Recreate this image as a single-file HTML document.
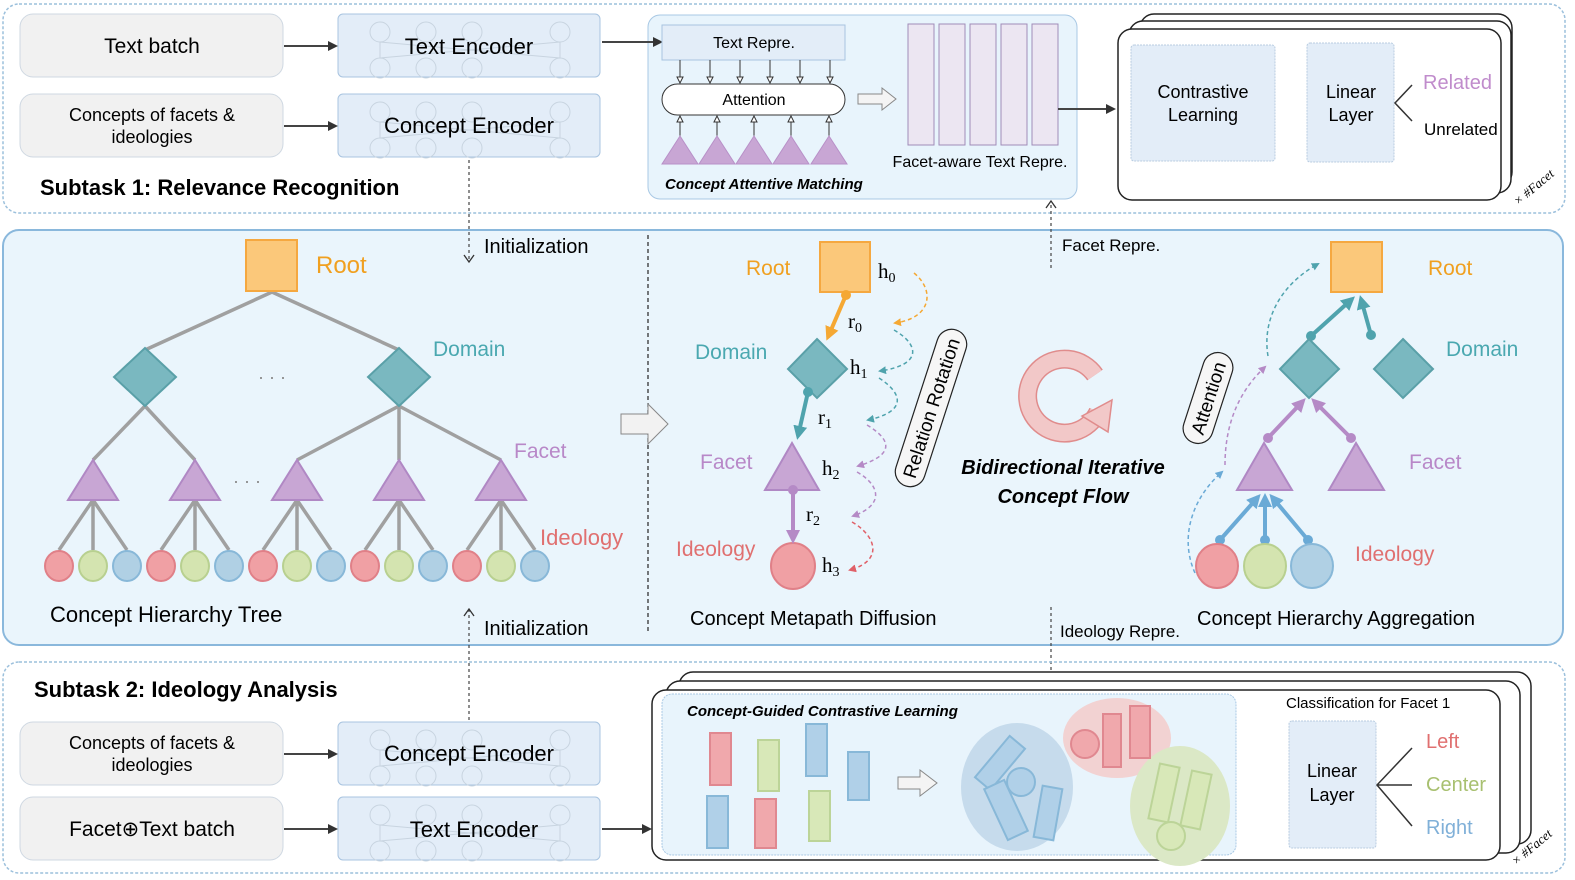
<!DOCTYPE html>
<html><head><meta charset="utf-8"><style>
html,body{margin:0;padding:0;background:#fff;}
svg{display:block;font-family:"Liberation Sans",sans-serif;}
</style></head><body>
<svg width="1575" height="880" viewBox="0 0 1575 880" xmlns="http://www.w3.org/2000/svg">
<defs>
<marker id="ab" markerWidth="10" markerHeight="10" refX="8" refY="5" orient="auto" markerUnits="userSpaceOnUse"><path d="M0,0 L10,5 L0,10 z" fill="#333"/></marker>
<marker id="ao" markerWidth="14" markerHeight="14" refX="10" refY="7" orient="auto" markerUnits="userSpaceOnUse"><path d="M0,0 L14,7 L0,14 z" fill="#f5a833"/></marker>
<marker id="at" markerWidth="14" markerHeight="14" refX="10" refY="7" orient="auto" markerUnits="userSpaceOnUse"><path d="M0,0 L14,7 L0,14 z" fill="#4fa3ad"/></marker>
<marker id="ap" markerWidth="14" markerHeight="14" refX="10" refY="7" orient="auto" markerUnits="userSpaceOnUse"><path d="M0,0 L14,7 L0,14 z" fill="#b58ac6"/></marker>
<marker id="abl" markerWidth="14" markerHeight="14" refX="10" refY="7" orient="auto" markerUnits="userSpaceOnUse"><path d="M0,0 L14,7 L0,14 z" fill="#6aaad6"/></marker>
<marker id="so" markerWidth="8" markerHeight="8" refX="6" refY="4" orient="auto" markerUnits="userSpaceOnUse"><path d="M0,0 L8,4 L0,8 z" fill="#f5a833"/></marker>
<marker id="st" markerWidth="8" markerHeight="8" refX="6" refY="4" orient="auto" markerUnits="userSpaceOnUse"><path d="M0,0 L8,4 L0,8 z" fill="#4fa3ad"/></marker>
<marker id="sp" markerWidth="8" markerHeight="8" refX="6" refY="4" orient="auto" markerUnits="userSpaceOnUse"><path d="M0,0 L8,4 L0,8 z" fill="#b58ac6"/></marker>
<marker id="sr" markerWidth="8" markerHeight="8" refX="6" refY="4" orient="auto" markerUnits="userSpaceOnUse"><path d="M0,0 L8,4 L0,8 z" fill="#e06068"/></marker>
<marker id="sb" markerWidth="8" markerHeight="8" refX="6" refY="4" orient="auto" markerUnits="userSpaceOnUse"><path d="M0,0 L8,4 L0,8 z" fill="#6aaad6"/></marker>
<marker id="open" markerWidth="10" markerHeight="12" refX="8" refY="6" orient="auto" markerUnits="userSpaceOnUse"><path d="M1,1 L8,6 L1,11" fill="none" stroke="#333" stroke-width="1.3"/></marker>
<marker id="ht" markerWidth="8" markerHeight="8" refX="7" refY="4" orient="auto" markerUnits="userSpaceOnUse"><path d="M1,1 L7,4 L1,7 z" fill="#fff" stroke="#333"/></marker>
<g id="enc" fill="none" stroke="#c8d4e0" stroke-width="1">
<circle cx="42" cy="14" r="10"/><circle cx="88" cy="14" r="10"/><circle cx="134" cy="14" r="10"/><circle cx="222" cy="14" r="10"/>
<circle cx="42" cy="50" r="10"/><circle cx="88" cy="50" r="10"/><circle cx="134" cy="50" r="10"/><circle cx="222" cy="50" r="10"/>
<path d="M42,24 L222,40 M42,40 L222,24 M42,24 L42,40 M222,24 L222,40"/>
</g>
</defs>

<!-- Top dashed section -->
<rect x="3" y="4" width="1562" height="209" rx="16" fill="none" stroke="#9cc0dc" stroke-width="1.5" stroke-dasharray="3,2"/>
<rect x="20" y="14" width="263" height="63" rx="13" fill="#f1f1f1" stroke="#cfd8e2"/>
<text x="152" y="53" font-size="21" text-anchor="middle">Text batch</text>
<rect x="20" y="94" width="263" height="63" rx="13" fill="#f1f1f1" stroke="#cfd8e2"/>
<text x="152" y="121" font-size="18" text-anchor="middle">Concepts of facets &amp;</text>
<text x="152" y="143" font-size="18" text-anchor="middle">ideologies</text>
<rect x="338" y="14" width="262" height="63" rx="5" fill="#e3edf8" stroke="#a8c4e0"/>
<use href="#enc" x="338" y="18"/>
<text x="469" y="54" font-size="22" text-anchor="middle">Text Encoder</text>
<rect x="338" y="94" width="262" height="63" rx="5" fill="#e3edf8" stroke="#a8c4e0"/>
<use href="#enc" x="338" y="98"/>
<text x="469" y="133" font-size="22" text-anchor="middle">Concept Encoder</text>
<line x1="284" y1="46" x2="336" y2="46" stroke="#444" stroke-width="2" marker-end="url(#ab)"/>
<line x1="284" y1="126" x2="336" y2="126" stroke="#444" stroke-width="2" marker-end="url(#ab)"/>
<text x="40" y="195" font-size="22" font-weight="bold">Subtask 1: Relevance Recognition</text>

<!-- Concept attentive matching -->
<rect x="648" y="15" width="429" height="184" rx="12" fill="#e8f4fc" stroke="#a8c8e4"/>
<line x1="602" y1="42" x2="661" y2="42" stroke="#444" stroke-width="2" marker-end="url(#ab)"/>
<rect x="662" y="25" width="183" height="35" fill="#e3edf8" stroke="#a8c4e0"/>
<text x="754" y="48" font-size="16" text-anchor="middle">Text Repre.</text>
<g stroke="#333" stroke-width="1">
<line x1="680" y1="60" x2="680" y2="83" marker-end="url(#ht)"/><line x1="710" y1="60" x2="710" y2="83" marker-end="url(#ht)"/><line x1="740" y1="60" x2="740" y2="83" marker-end="url(#ht)"/><line x1="770" y1="60" x2="770" y2="83" marker-end="url(#ht)"/><line x1="800" y1="60" x2="800" y2="83" marker-end="url(#ht)"/><line x1="830" y1="60" x2="830" y2="83" marker-end="url(#ht)"/>
<line x1="680" y1="136" x2="680" y2="116" marker-end="url(#ht)"/><line x1="717" y1="136" x2="717" y2="116" marker-end="url(#ht)"/><line x1="754" y1="136" x2="754" y2="116" marker-end="url(#ht)"/><line x1="791" y1="136" x2="791" y2="116" marker-end="url(#ht)"/><line x1="829" y1="136" x2="829" y2="116" marker-end="url(#ht)"/>
</g>
<rect x="662" y="84" width="183" height="31" rx="15.5" fill="#fff" stroke="#333"/>
<text x="754" y="105" font-size="16" text-anchor="middle">Attention</text>
<g fill="#c8a6d4" stroke="#b890c8">
<path d="M680,136 L698,164 L662,164 z"/><path d="M717,136 L735,164 L699,164 z"/><path d="M754,136 L772,164 L736,164 z"/><path d="M791,136 L809,164 L773,164 z"/><path d="M829,136 L847,164 L811,164 z"/>
</g>
<path d="M858,94 L882,94 L882,88 L896,99 L882,110 L882,104 L858,104 z" fill="#f4f4f4" stroke="#888"/>
<g fill="#ece6f2" stroke="#a08cb8">
<rect x="908" y="24" width="26" height="121"/><rect x="939" y="24" width="26" height="121"/><rect x="970" y="24" width="26" height="121"/><rect x="1001" y="24" width="26" height="121"/><rect x="1032" y="24" width="26" height="121"/>
</g>
<text x="980" y="167" font-size="16" text-anchor="middle">Facet-aware Text Repre.</text>
<text x="665" y="189" font-size="15" font-weight="bold" font-style="italic">Concept Attentive Matching</text>
<line x1="1058" y1="109" x2="1114" y2="109" stroke="#444" stroke-width="2" marker-end="url(#ab)"/>

<!-- Classification cards top -->
<rect x="1140" y="14" width="372" height="172" rx="14" fill="#fff" stroke="#222" stroke-width="1.5"/>
<rect x="1129" y="21" width="382" height="172" rx="14" fill="#fff" stroke="#222" stroke-width="1.5"/>
<rect x="1118" y="29" width="383" height="171" rx="14" fill="#fff" stroke="#222" stroke-width="1.5"/>
<rect x="1131" y="45" width="144" height="116" rx="3" fill="#e3edf8" stroke="#b8cce0" stroke-dasharray="2,1"/>
<text x="1203" y="98" font-size="18" text-anchor="middle">Contrastive</text>
<text x="1203" y="121" font-size="18" text-anchor="middle">Learning</text>
<rect x="1307" y="43" width="87" height="119" rx="3" fill="#e3edf8" stroke="#b8cce0" stroke-dasharray="2,1"/>
<text x="1351" y="98" font-size="18" text-anchor="middle">Linear</text>
<text x="1351" y="121" font-size="18" text-anchor="middle">Layer</text>
<path d="M1412,85 L1395,103 L1412,121" fill="none" stroke="#333" stroke-width="1.5"/>
<text x="1423" y="89" font-size="20" fill="#c08ccc">Related</text>
<text x="1424" y="135" font-size="17">Unrelated</text>
<text x="1518" y="206" font-size="13" font-style="italic" font-family="Liberation Serif,serif" transform="rotate(-40 1518 206)">× #Facet</text>

<!-- Middle panel -->
<rect x="3" y="230" width="1560" height="415" rx="16" fill="#eaf5fc" stroke="#8ab8dc" stroke-width="2"/>
<line x1="648" y1="235" x2="648" y2="633" stroke="#333" stroke-width="1.3" stroke-dasharray="4,3"/>
<line x1="469" y1="160" x2="469" y2="262" stroke="#444" stroke-width="1.2" stroke-dasharray="3,3" marker-end="url(#open)"/>
<text x="484" y="253" font-size="20">Initialization</text>
<line x1="469" y1="720" x2="469" y2="609" stroke="#444" stroke-width="1.2" stroke-dasharray="3,3" marker-end="url(#open)"/>
<text x="484" y="635" font-size="20">Initialization</text>

<!-- tree -->
<g stroke="#a0a0a0" stroke-width="3.5" fill="none">
<path d="M272,292 L145,350 M272,292 L399,350"/>
<path d="M145,406 L93,460 M145,406 L195,460 M399,406 L297,460 M399,406 L399,460 M399,406 L501,460"/>
<path d="M59,550 L93,500 L93,550 M93,500 L127,550"/>
<path d="M161,550 L195,500 L195,550 M195,500 L229,550"/>
<path d="M263,550 L297,500 L297,550 M297,500 L331,550"/>
<path d="M365,550 L399,500 L399,550 M399,500 L433,550"/>
<path d="M467,550 L501,500 L501,550 M501,500 L535,550"/>
</g>
<rect x="246" y="240" width="51" height="51" fill="#fbc87a" stroke="#f5a840" stroke-width="2"/>
<text x="316" y="273" font-size="24" fill="#f0a020">Root</text>
<g fill="#7ab8c0" stroke="#5aa0a8" stroke-width="2">
<path d="M145,348 L176,377 L145,406 L114,377 z"/><path d="M399,348 L430,377 L399,406 L368,377 z"/>
</g>
<text x="433" y="356" font-size="21" fill="#4aa8b0">Domain</text>
<text x="272" y="383" font-size="18" fill="#888" text-anchor="middle">· · ·</text>
<text x="247" y="487" font-size="18" fill="#888" text-anchor="middle">· · ·</text>
<g fill="#c8a6d4" stroke="#b088c4" stroke-width="2">
<path d="M93,460 L118,500 L68,500 z"/><path d="M195,460 L220,500 L170,500 z"/><path d="M297,460 L322,500 L272,500 z"/><path d="M399,460 L424,500 L374,500 z"/><path d="M501,460 L526,500 L476,500 z"/>
</g>
<text x="514" y="458" font-size="21" fill="#b888c8">Facet</text>
<g stroke-width="2">
<g fill="#f0a0a4" stroke="#e08088"><ellipse cx="59" cy="566" rx="14" ry="15"/><ellipse cx="161" cy="566" rx="14" ry="15"/><ellipse cx="263" cy="566" rx="14" ry="15"/><ellipse cx="365" cy="566" rx="14" ry="15"/><ellipse cx="467" cy="566" rx="14" ry="15"/></g>
<g fill="#d4e4b0" stroke="#b8d090"><ellipse cx="93" cy="566" rx="14" ry="15"/><ellipse cx="195" cy="566" rx="14" ry="15"/><ellipse cx="297" cy="566" rx="14" ry="15"/><ellipse cx="399" cy="566" rx="14" ry="15"/><ellipse cx="501" cy="566" rx="14" ry="15"/></g>
<g fill="#b0d0e4" stroke="#88b8d8"><ellipse cx="127" cy="566" rx="14" ry="15"/><ellipse cx="229" cy="566" rx="14" ry="15"/><ellipse cx="331" cy="566" rx="14" ry="15"/><ellipse cx="433" cy="566" rx="14" ry="15"/><ellipse cx="535" cy="566" rx="14" ry="15"/></g>
</g>
<text x="540" y="545" font-size="22" fill="#e07070">Ideology</text>
<text x="50" y="622" font-size="22">Concept Hierarchy Tree</text>
<path d="M621,414 L648,414 L648,404 L668,424 L648,444 L648,434 L621,434 z" fill="#f2f2f2" stroke="#888"/>

<!-- Metapath diffusion -->
<rect x="820" y="242" width="50" height="50" fill="#fbc87a" stroke="#f5a840" stroke-width="2"/>
<text x="746" y="275" font-size="21" fill="#f0a020">Root</text>
<path d="M817,339 L847,369 L817,398 L788,369 z" fill="#7ab8c0" stroke="#5aa0a8" stroke-width="2"/>
<text x="695" y="359" font-size="21" fill="#4aa8b0">Domain</text>
<path d="M792,443 L819,490 L765,490 z" fill="#c8a6d4" stroke="#b088c4" stroke-width="2"/>
<text x="700" y="469" font-size="21" fill="#b888c8">Facet</text>
<ellipse cx="793" cy="566" rx="22" ry="23" fill="#f0a0a4" stroke="#e08088" stroke-width="2"/>
<text x="676" y="556" font-size="21" fill="#e07070">Ideology</text>
<line x1="846" y1="295" x2="828" y2="337" stroke="#f5a833" stroke-width="4" marker-end="url(#ao)"/><circle cx="846" cy="295" r="5" fill="#f5a833"/>
<line x1="808" y1="392" x2="798" y2="436" stroke="#4fa3ad" stroke-width="4" marker-end="url(#at)"/><circle cx="808" cy="392" r="5" fill="#4fa3ad"/>
<line x1="793" y1="490" x2="793" y2="540" stroke="#b58ac6" stroke-width="4" marker-end="url(#ap)"/><circle cx="793" cy="490" r="5" fill="#b58ac6"/>
<g font-family="Liberation Serif,serif" font-size="21">
<text x="878" y="278">h<tspan font-size="14" dy="4">0</tspan></text>
<text x="848" y="328">r<tspan font-size="14" dy="4">0</tspan></text>
<text x="850" y="374">h<tspan font-size="14" dy="4">1</tspan></text>
<text x="818" y="424">r<tspan font-size="14" dy="4">1</tspan></text>
<text x="822" y="475">h<tspan font-size="14" dy="4">2</tspan></text>
<text x="806" y="521">r<tspan font-size="14" dy="4">2</tspan></text>
<text x="822" y="572">h<tspan font-size="14" dy="4">3</tspan></text>
</g>
<g fill="none" stroke-width="1.5" stroke-dasharray="4,3">
<path d="M914,273 C935,290 932,318 895,323" stroke="#f5a833" marker-end="url(#so)"/>
<path d="M894,330 C920,345 922,365 880,371" stroke="#4fa3ad" marker-end="url(#st)"/>
<path d="M879,378 C905,395 905,412 868,420" stroke="#4fa3ad" marker-end="url(#st)"/>
<path d="M867,425 C892,440 895,455 858,466" stroke="#b58ac6" marker-end="url(#sp)"/>
<path d="M857,472 C880,485 885,505 853,516" stroke="#b58ac6" marker-end="url(#sp)"/>
<path d="M852,522 C875,535 885,560 850,570" stroke="#e06068" marker-end="url(#sr)"/>
</g>
<g transform="translate(931,408) rotate(-72)">
<rect x="-82" y="-15" width="164" height="30" rx="15" fill="#f6f6f6" stroke="#222" stroke-width="1.2"/>
<text x="0" y="7" font-size="19" text-anchor="middle">Relation Rotation</text>
</g>
<!-- circular arrow -->
<path d="M1098,412 A37,37 0 1 1 1095,375" fill="none" stroke="#e08c8c" stroke-width="19"/>
<path d="M1098,412 A37,37 0 1 1 1095,375" fill="none" stroke="#f2c8c8" stroke-width="16"/>
<path d="M1082,416 L1112,400 L1108,432 z" fill="#f2c8c8" stroke="#e08c8c" stroke-width="1.5"/>
<text x="1063" y="474" font-size="20" font-weight="bold" font-style="italic" text-anchor="middle">Bidirectional Iterative</text>
<text x="1063" y="503" font-size="20" font-weight="bold" font-style="italic" text-anchor="middle">Concept Flow</text>
<line x1="1051" y1="268" x2="1051" y2="201" stroke="#444" stroke-width="1.2" stroke-dasharray="3,3" marker-end="url(#open)"/>
<text x="1062" y="251" font-size="17">Facet Repre.</text>
<line x1="1051" y1="607" x2="1051" y2="693" stroke="#444" stroke-width="1.2" stroke-dasharray="3,3" marker-end="url(#open)"/>
<text x="1060" y="637" font-size="17">Ideology Repre.</text>
<text x="690" y="625" font-size="20">Concept Metapath Diffusion</text>

<!-- Aggregation -->
<line x1="1311" y1="336" x2="1352" y2="299" stroke="#4fa3ad" stroke-width="4" marker-end="url(#at)"/><circle cx="1311" cy="336" r="5" fill="#4fa3ad"/>
<line x1="1371" y1="335" x2="1361" y2="299" stroke="#4fa3ad" stroke-width="4" marker-end="url(#at)"/><circle cx="1371" cy="335" r="5" fill="#4fa3ad"/>
<line x1="1268" y1="438" x2="1303" y2="401" stroke="#b58ac6" stroke-width="4" marker-end="url(#ap)"/><circle cx="1268" cy="438" r="5" fill="#b58ac6"/>
<line x1="1351" y1="438" x2="1314" y2="401" stroke="#b58ac6" stroke-width="4" marker-end="url(#ap)"/><circle cx="1351" cy="438" r="5" fill="#b58ac6"/>
<line x1="1220" y1="540" x2="1258" y2="497" stroke="#6aaad6" stroke-width="4" marker-end="url(#abl)"/><circle cx="1220" cy="540" r="5" fill="#6aaad6"/>
<line x1="1265" y1="540" x2="1265" y2="497" stroke="#6aaad6" stroke-width="4" marker-end="url(#abl)"/><circle cx="1265" cy="540" r="5" fill="#6aaad6"/>
<line x1="1308" y1="540" x2="1272" y2="497" stroke="#6aaad6" stroke-width="4" marker-end="url(#abl)"/><circle cx="1308" cy="540" r="5" fill="#6aaad6"/>
<rect x="1331" y="242" width="51" height="50" fill="#fbc87a" stroke="#f5a840" stroke-width="2"/>
<text x="1428" y="275" font-size="21" fill="#f0a020">Root</text>
<path d="M1309,339 L1339,369 L1309,398 L1280,369 z" fill="#7ab8c0" stroke="#5aa0a8" stroke-width="2"/>
<path d="M1403,339 L1433,369 L1403,398 L1374,369 z" fill="#7ab8c0" stroke="#5aa0a8" stroke-width="2"/>
<text x="1446" y="356" font-size="21" fill="#4aa8b0">Domain</text>
<path d="M1264,443 L1292,490 L1237,490 z" fill="#c8a6d4" stroke="#b088c4" stroke-width="2"/>
<path d="M1356,443 L1384,490 L1329,490 z" fill="#c8a6d4" stroke="#b088c4" stroke-width="2"/>
<text x="1409" y="469" font-size="21" fill="#b888c8">Facet</text>
<ellipse cx="1217" cy="566" rx="21" ry="22" fill="#f0a0a4" stroke="#e08088" stroke-width="2"/>
<ellipse cx="1265" cy="566" rx="21" ry="22" fill="#d4e4b0" stroke="#b8d090" stroke-width="2"/>
<ellipse cx="1312" cy="566" rx="21" ry="22" fill="#b0d0e4" stroke="#88b8d8" stroke-width="2"/>
<text x="1355" y="561" font-size="21" fill="#e07070">Ideology</text>
<g fill="none" stroke-width="1.5" stroke-dasharray="4,3">
<path d="M1195,573 C1180,540 1190,500 1222,472" stroke="#6aaad6" marker-end="url(#sb)"/>
<path d="M1225,465 C1225,430 1235,395 1265,367" stroke="#b58ac6" marker-end="url(#sp)"/>
<path d="M1268,356 C1262,320 1280,285 1318,264" stroke="#4fa3ad" marker-end="url(#st)"/>
</g>
<g transform="translate(1208,398) rotate(-72)">
<rect x="-47" y="-15" width="94" height="30" rx="15" fill="#f6f6f6" stroke="#222" stroke-width="1.2"/>
<text x="0" y="7" font-size="19" text-anchor="middle">Attention</text>
</g>
<text x="1197" y="625" font-size="20">Concept Hierarchy Aggregation</text>

<!-- Bottom dashed section -->
<rect x="3" y="662" width="1562" height="211" rx="16" fill="none" stroke="#9cc0dc" stroke-width="1.5" stroke-dasharray="3,2"/>
<text x="34" y="697" font-size="22" font-weight="bold">Subtask 2: Ideology Analysis</text>
<rect x="20" y="722" width="263" height="63" rx="13" fill="#f1f1f1" stroke="#cfd8e2"/>
<text x="152" y="749" font-size="18" text-anchor="middle">Concepts of facets &amp;</text>
<text x="152" y="771" font-size="18" text-anchor="middle">ideologies</text>
<rect x="20" y="797" width="263" height="63" rx="13" fill="#f1f1f1" stroke="#cfd8e2"/>
<text x="152" y="836" font-size="21" text-anchor="middle">Facet⊕Text batch</text>
<rect x="338" y="722" width="262" height="63" rx="5" fill="#e3edf8" stroke="#a8c4e0"/>
<use href="#enc" x="338" y="726"/>
<text x="469" y="761" font-size="22" text-anchor="middle">Concept Encoder</text>
<rect x="338" y="797" width="262" height="63" rx="5" fill="#e3edf8" stroke="#a8c4e0"/>
<use href="#enc" x="338" y="801"/>
<text x="474" y="837" font-size="22" text-anchor="middle">Text Encoder</text>
<line x1="284" y1="754" x2="336" y2="754" stroke="#444" stroke-width="2" marker-end="url(#ab)"/>
<line x1="284" y1="829" x2="336" y2="829" stroke="#444" stroke-width="2" marker-end="url(#ab)"/>
<line x1="602" y1="829" x2="650" y2="829" stroke="#444" stroke-width="2" marker-end="url(#ab)"/>

<rect x="679" y="672" width="852" height="172" rx="14" fill="#fff" stroke="#222" stroke-width="1.5"/>
<rect x="666" y="681" width="854" height="172" rx="14" fill="#fff" stroke="#222" stroke-width="1.5"/>
<rect x="652" y="690" width="848" height="170" rx="14" fill="#fff" stroke="#222" stroke-width="1.5"/>
<rect x="662" y="694" width="574" height="161" rx="10" fill="#e8f4fc" stroke="#a8c8e4" stroke-dasharray="2,1"/>
<text x="687" y="716" font-size="15" font-weight="bold" font-style="italic">Concept-Guided Contrastive Learning</text>
<g stroke-width="2">
<rect x="710" y="733" width="21" height="52" fill="#f0a8ac" stroke="#e08890"/>
<rect x="758" y="740" width="21" height="51" fill="#d8e8b8" stroke="#bcd498"/>
<rect x="806" y="724" width="21" height="52" fill="#b0d0e8" stroke="#88b8d8"/>
<rect x="848" y="752" width="21" height="48" fill="#b0d0e8" stroke="#88b8d8"/>
<rect x="707" y="796" width="21" height="52" fill="#b0d0e8" stroke="#88b8d8"/>
<rect x="755" y="799" width="21" height="49" fill="#f0a8ac" stroke="#e08890"/>
<rect x="809" y="791" width="21" height="50" fill="#d8e8b8" stroke="#bcd498"/>
</g>
<path d="M898,777 L920,777 L920,770 L937,783 L920,796 L920,789 L898,789 z" fill="#f4f4f4" stroke="#888"/>
<ellipse cx="1017" cy="787" rx="56" ry="64" fill="#c6dbec"/>
<ellipse cx="1117" cy="738" rx="54" ry="40" fill="#f2d2d2"/>
<ellipse cx="1180" cy="806" rx="50" ry="60" fill="#dbe8c6"/>
<g stroke-width="2" fill="#b0d0e8" stroke="#88b8d8">
<rect x="-10" y="-27" width="20" height="54" transform="translate(1000,763) rotate(40)"/>
<circle cx="1021" cy="782" r="14"/>
<rect x="-11" y="-28" width="22" height="56" transform="translate(1006,810) rotate(-25)"/>
<rect x="-10" y="-26" width="20" height="52" transform="translate(1048,813) rotate(10)"/>
</g>
<g stroke-width="2" fill="#f0a8ac" stroke="#e08890">
<circle cx="1085" cy="744" r="14"/><rect x="1103" y="714" width="18" height="53"/><rect x="1130" y="706" width="20" height="52"/>
</g>
<g stroke-width="2" fill="#d8e8b8" stroke="#bcd498">
<rect x="-10" y="-28" width="20" height="56" transform="translate(1164,793) rotate(12)"/>
<rect x="-10" y="-28" width="20" height="56" transform="translate(1196,800) rotate(12)"/>
<circle cx="1171" cy="836" r="14"/>
</g>
<text x="1286" y="708" font-size="15">Classification for Facet 1</text>
<rect x="1289" y="721" width="87" height="127" rx="3" fill="#e3edf8" stroke="#b8cce0" stroke-dasharray="2,1"/>
<text x="1332" y="777" font-size="18" text-anchor="middle">Linear</text>
<text x="1332" y="801" font-size="18" text-anchor="middle">Layer</text>
<path d="M1412,748 L1377,785 L1412,826 M1377,785 L1412,785" fill="none" stroke="#333" stroke-width="1.5"/>
<text x="1426" y="748" font-size="20" fill="#e07070">Left</text>
<text x="1426" y="791" font-size="20" fill="#a8c070">Center</text>
<text x="1426" y="834" font-size="20" fill="#80b0d8">Right</text>
<text x="1516" y="866" font-size="13" font-style="italic" font-family="Liberation Serif,serif" transform="rotate(-40 1516 866)">× #Facet</text>
</svg>
</body></html>
